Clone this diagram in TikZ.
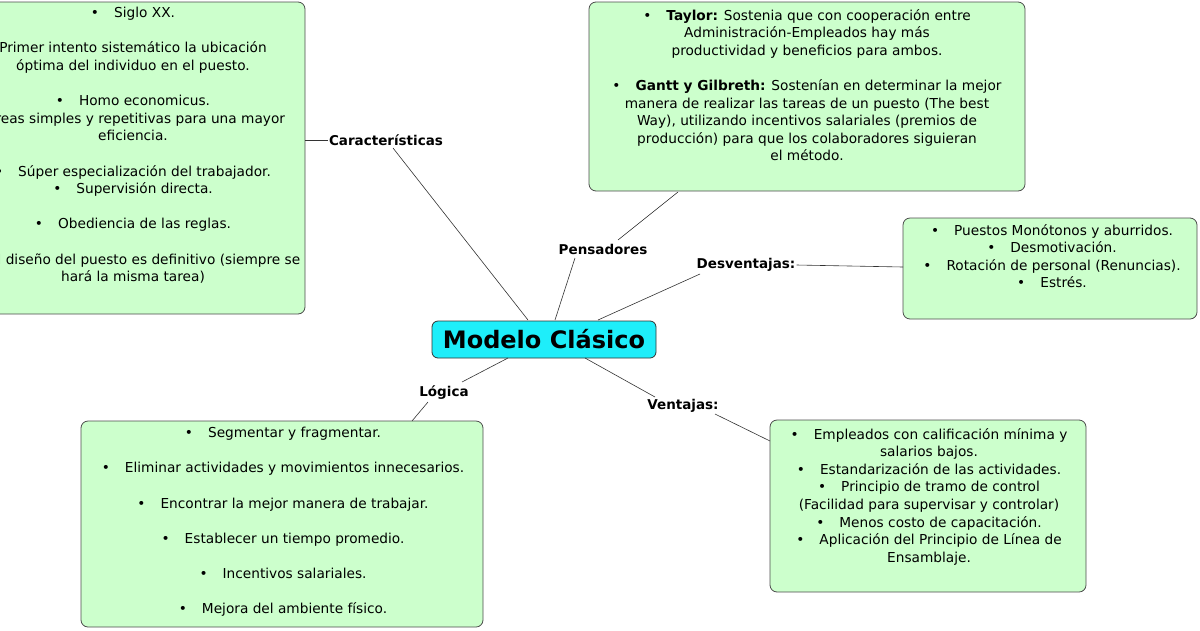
\documentclass[tikz,border=0pt]{standalone}
\usepackage{fontspec}
\setmainfont{DejaVu Sans}
\definecolor{cy}{RGB}{30,238,250}
\definecolor{gr}{RGB}{204,255,204}
\begin{document}
\begin{tikzpicture}[x=1pt,y=-1pt,
 box/.style={draw=black!70,fill=gr,rounded corners=7pt,line width=0.8pt},
 txt/.style={anchor=north,align=center,font=\fontsize{13.7}{17.6}\selectfont,inner sep=0pt},
 lab/.style={font=\bfseries\fontsize{13.5}{16}\selectfont,inner sep=1pt},
 con/.style={draw=black!80,line width=0.6pt}]
\useasboundingbox (0,0) rectangle (1200,630);
\newcommand{\bl}{\textbullet\hspace{1.1em}}
% boxes
\draw[box] (-40,2) rectangle (305,314);
\draw[box] (589,2) rectangle (1025,191);
\draw[box] (903,218) rectangle (1197,319);
\draw[box] (81,421) rectangle (483,627);
\draw[box] (770,420) rectangle (1086,592);
\node[draw=black!80,fill=cy,rounded corners=6pt,line width=0.8pt,minimum width=224pt,minimum height=37pt,inner sep=0pt,font=\bfseries\fontsize{24}{26}\selectfont] (mc) at (544,339.5) {Modelo Clásico};
% texts
\node[txt] (t1) at (133,7) {\bl Siglo XX.\\ ~\\
Primer intento sistemático la ubicación\\ óptima del individuo en el puesto.\\ ~\\
\bl Homo economicus.\\ Tareas simples y repetitivas para una mayor\\ eficiencia.\\ ~\\
\bl Súper especialización del trabajador.\\ \bl Supervisión directa.\\ ~\\
\bl Obediencia de las reglas.\\ ~\\
\bl El diseño del puesto es definitivo (siempre se\\ hará la misma tarea)};
\node[txt] (t2) at (807,9) {\bl \textbf{Taylor:} Sostenia que con cooperación entre\\ Administración-Empleados hay más\\ productividad y beneficios para ambos.\\ ~\\
\bl \textbf{Gantt y Gilbreth:} Sostenían en determinar la mejor\\ manera de realizar las tareas de un puesto (The best\\ Way), utilizando incentivos salariales (premios de\\ producción) para que los colaboradores siguieran\\ el método.};
\node[txt] (t3) at (1052,224) {\bl Puestos Monótonos y aburridos.\\ \bl Desmotivación.\\ \bl Rotación de personal (Renuncias).\\ \bl Estrés.};
\node[txt] (t4) at (283,427) {\bl Segmentar y fragmentar.\\ ~\\ \bl Eliminar actividades y movimientos innecesarios.\\ ~\\ \bl Encontrar la mejor manera de trabajar.\\ ~\\ \bl Establecer un tiempo promedio.\\ ~\\ \bl Incentivos salariales.\\ ~\\ \bl Mejora del ambiente físico.};
\node[txt] (t5) at (929,428) {\bl Empleados con calificación mínima y\\ salarios bajos.\\ \bl Estandarización de las actividades.\\ \bl Principio de tramo de control\\ (Facilidad para supervisar y controlar)\\ \bl Menos costo de capacitación.\\ \bl Aplicación del Principio de Línea de\\ Ensamblaje.};
% labels
\node[lab] (car) at (386,140) {Características};
\node[lab] (pen) at (603,249) {Pensadores};
\node[lab] (des) at (746,265) {Desventajas:};
\node[lab] (log) at (444,393) {Lógica};
\node[lab] (ven) at (683,406) {Ventajas:};
% coordinates
\coordinate (c1) at (528,320); \coordinate (c1b) at (393,148); \coordinate (b1) at (305,140);
\coordinate (c2) at (555,320); \coordinate (c2b) at (575,258); \coordinate (c2c) at (618,240); \coordinate (b2) at (678,192);
\coordinate (c3) at (598,320); \coordinate (c3b) at (700,274); \coordinate (b3) at (903,267);
\coordinate (c4) at (508,358); \coordinate (c4b) at (462,382); \coordinate (c4c) at (428,402); \coordinate (b4) at (412,421);
\coordinate (c5) at (585,358); \coordinate (c5b) at (655,397); \coordinate (c5c) at (715,414); \coordinate (b5) at (770,441);
\draw[con] (c1) -- (c1b); \draw[con] (car.west) -- (b1);
\draw[con] (c2) -- (c2b); \draw[con] (c2c) -- (b2);
\draw[con] (c3) -- (c3b); \draw[con] (des.east) -- (b3);
\draw[con] (c4) -- (c4b); \draw[con] (c4c) -- (b4);
\draw[con] (c5) -- (c5b); \draw[con] (c5c) -- (b5);
\end{tikzpicture}
\end{document}
